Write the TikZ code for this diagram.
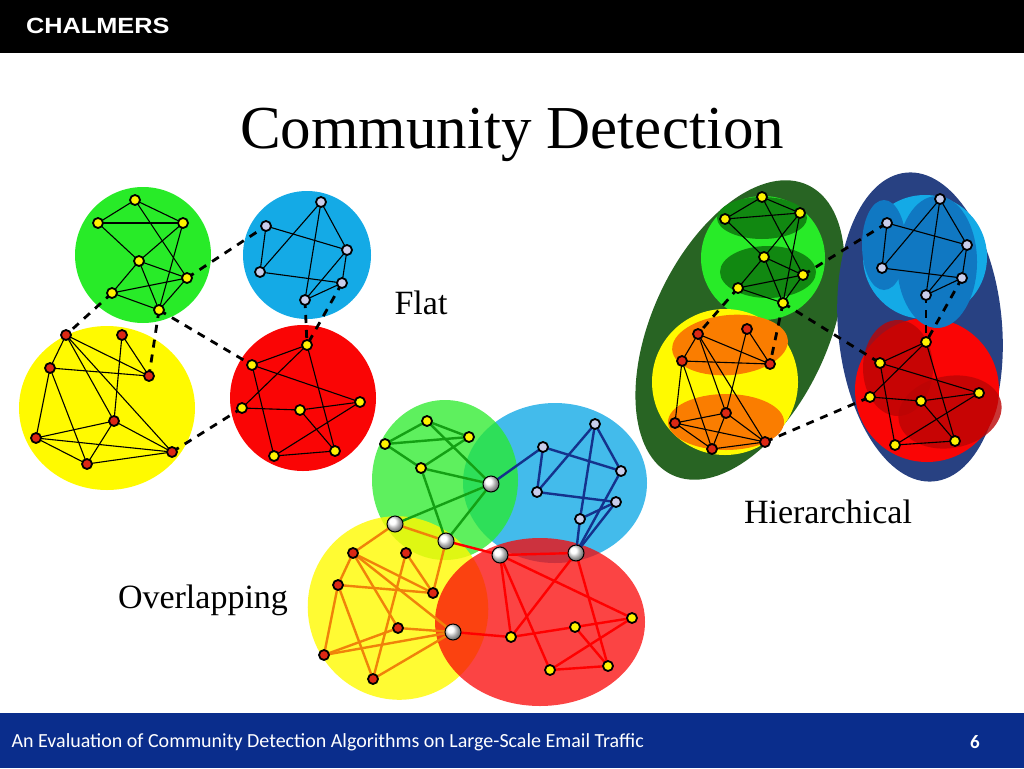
\documentclass[tikz,border=0pt]{standalone}
\usepackage{fontspec}
\setmainfont{Liberation Serif}
\newfontfamily\footfont{Carlito}
\newfontfamily\logofont{Liberation Sans}
\definecolor{cgreen}{RGB}{40,235,40}
\definecolor{cblue}{RGB}{20,170,230}
\definecolor{cyellow}{RGB}{255,250,0}
\definecolor{cred}{RGB}{250,5,5}
\definecolor{cdkgreen}{RGB}{40,100,35}
\definecolor{cdkblue}{RGB}{40,65,130}
\definecolor{corange}{RGB}{250,125,0}
\definecolor{cnavy}{RGB}{10,45,140}
\definecolor{cpale}{RGB}{200,205,235}
\definecolor{cdot}{RGB}{220,40,20}
\definecolor{ogreen}{RGB}{20,160,20}
\definecolor{oblue}{RGB}{20,50,140}
\definecolor{oorange}{RGB}{240,130,10}
\tikzset{
  vy/.style={circle,draw=black,line width=1.8pt,fill=yellow,inner sep=0pt,minimum size=10pt},
  vr/.style={vy,fill=cdot},
  vb/.style={vy,fill=cpale},
  vw/.style={circle,draw=black,line width=1pt,inner sep=0pt,minimum size=16pt,ball color=white},
  link/.style={black,line width=1.1pt},
  bridge/.style={black,line width=2.8pt,dash pattern=on 8pt off 7pt},
  olink/.style={line width=2.4pt},
  label/.style={font=\fontsize{34}{34}\selectfont}
}
% shared edges of the flat and hierarchical networks
\newcommand\netedges[1]{%
  \foreach \a/\b in {g1/g2,g1/g3,g2/g3,g2/g4,g1/g5,g3/g4,g3/g7,g4/g6,g4/g5,g4/g7,g6/g5,g6/g7,g5/g7,
    b1/b4,b1/b3,b1/b6,b2/b4,b2/b3,b4/b5,b3/b6,b3/b5,b5/b6,
    y1/y3,y1/y4,y1/y5,y1/y8,y2/y4,y2/y5,y3/y4,y3/y6,y3/y7,y5/y6,y5/y7,y5/y8,y6/y7,y6/y8,y7/y8,
    r1/r2,r1/r3,r1/r7,r2/r5,r2/r6,r3/r4,r4/r5,r4/r7,r5/r6,r6/r7}
    \draw[link] (#1\a) -- (#1\b);
  \foreach \a/\b in {g5/b2,g6/y1,g7/y4,g7/r2,b6/r1,b5/r1,y8/r3}
    \draw[bridge] (#1\a) -- (#1\b);
}
\begin{document}
\begin{tikzpicture}[x=1pt,y=-1pt]
\useasboundingbox (0,0) rectangle (1024,768);
\fill[black] (0,0) rectangle (1024,53);
\node[white,font=\logofont\bfseries\fontsize{22}{22}\selectfont,anchor=west,xscale=1.15] (logo) at (22,26) {CHALMERS};
\fill[cnavy] (0,713) rectangle (1024,768);
\node[white,font=\footfont\fontsize{20}{20}\selectfont,anchor=west] (foot) at (8,742) {An Evaluation of Community Detection Algorithms on Large-Scale Email Traffic};
\node[white,font=\footfont\bfseries\fontsize{19}{19}\selectfont] (page) at (975,742) {6};
\node[font=\fontsize{61}{61}\selectfont] (title) at (512,135) {Community Detection};
\node[label] (flat) at (421,303) {Flat};
\node[label] (hier) at (828,512) {Hierarchical};
\node[label] (over) at (203,600) {Overlapping};

% flat
\fill[cgreen] (143,255) circle (68);
\fill[cblue] (307,255) circle (64);
\fill[cyellow] (107,408) ellipse (88 and 82);
\fill[cred] (303,398) circle (73);
\foreach \n/\x/\y in {g1/135/200,g2/98/223,g3/183/223,g4/139/261,g5/187/278,g6/112/293,g7/159/310,
  y1/66/335,y2/122/335,y3/50/368,y4/149/376,y5/114/421,y6/36/438,y7/87/464,y8/172/452,
  b1/321/202,b2/266/226,b3/347/250,b4/260/272,b5/342/283,b6/305/300,
  r1/307/345,r2/252/365,r3/242/408,r4/300/410,r5/360/402,r6/274/456,r7/335/451}
  \coordinate (f\n) at (\x,\y);
\netedges{f}
\foreach \n in {g1,g2,g3,g4,g5,g6,g7,r1,r2,r3,r4,r5,r6,r7} \node[vy] at (f\n) {};
\foreach \n in {y1,y2,y3,y4,y5,y6,y7,y8} \node[vr] at (f\n) {};
\foreach \n in {b1,b2,b3,b4,b5,b6} \node[vb] at (f\n) {};

% hierarchical
\fill[cdkgreen,rotate around={-25:(740,330)}] (740,330) ellipse (88 and 160);
\fill[cdkblue,rotate around={5:(920,327)}] (920,327) ellipse (82 and 155);
\fill[cgreen] (763,258) circle (62);
\fill[cyellow] (725,382) circle (73);
\fill[cblue] (925,257) circle (62);
\fill[cred] (927,390) circle (72);
\fill[ogreen!85!black] (762,218) ellipse (45 and 21);
\fill[ogreen!85!black] (768,272) ellipse (48 and 26);
\fill[corange,rotate around={5:(730,345)}] (730,345) ellipse (58 and 30);
\fill[corange] (726,422) ellipse (58 and 28);
\fill[cblue!60!cnavy] (884,245) ellipse (22 and 45);
\fill[cblue!60!cnavy] (937,262) ellipse (40 and 66);
\fill[cred!75!black,opacity=0.8] (898,368) ellipse (35 and 48);
\fill[cred!75!black,opacity=0.8,rotate around={10:(950,412)}] (950,412) ellipse (52 and 36);
\foreach \n/\x/\y in {g1/762/197,g2/725/219,g3/800/213,g4/764/257,g5/803/275,g6/738/288,g7/783/303,
  y1/698/334,y2/747/329,y3/682/361,y4/770/364,y5/726/413,y6/675/423,y7/712/449,y8/765/442,
  b1/940/199,b2/887/223,b3/967/245,b4/882/268,b5/962/278,b6/926/295,
  r1/926/342,r2/880/363,r3/870/397,r4/921/401,r5/979/393,r6/895/445,r7/955/441}
  \coordinate (h\n) at (\x,\y);
\netedges{h}
\foreach \n in {g1,g2,g3,g4,g5,g6,g7,r1,r2,r3,r4,r5,r6,r7} \node[vy] at (h\n) {};
\foreach \n in {y1,y2,y3,y4,y5,y6,y7,y8} \node[vr] at (h\n) {};
\foreach \n in {b1,b2,b3,b4,b5,b6} \node[vb] at (h\n) {};

% overlapping
\fill[cblue,opacity=0.8] (555,483) ellipse (92 and 80);
\fill[cgreen,opacity=0.75] (445,480) ellipse (73 and 80);
\fill[cyellow,opacity=0.8,rotate around={20:(398,608)}] (398,608) ellipse (90 and 92);
\fill[cred,opacity=0.75] (540,622) ellipse (105 and 84);
\foreach \n/\x/\y in {og1/427/421,og2/385/444,og3/469/437,og4/421/468,
  ob1/543/447,ob2/595/424,ob3/621/471,ob4/537/492,ob5/616/502,ob6/580/519,
  oy1/353/553,oy2/406/553,oy3/338/585,oy4/433/593,oy5/398/628,oy6/324/655,oy7/373/679,
  or1/511/637,or2/575/627,or3/632/618,or4/550/670,or5/608/666,
  w1/491/484,w2/395/524,w3/446/541,w4/500/555,w5/576/553,w6/453/632}
  \coordinate (\n) at (\x,\y);
\foreach \a/\b in {og1/og2,og1/og3,og2/og3,og2/og4,og4/w1,og1/w1,og3/og4,og4/w3,w1/w2,w1/w3}
  \draw[olink,ogreen] (\a) -- (\b);
\foreach \a/\b in {w1/ob1,ob1/ob4,ob1/ob3,ob2/ob4,ob2/ob6,ob2/ob3,ob4/ob5,ob3/w5,ob5/ob6,ob5/w5,ob6/w5}
  \draw[olink,oblue] (\a) -- (\b);
\foreach \a/\b in {w2/w3,w2/oy1,w3/oy4,oy1/oy3,oy1/oy4,oy1/oy5,oy1/w6,oy2/oy4,oy2/oy7,oy3/oy4,oy3/oy6,oy3/oy7,oy5/oy6,oy5/w6,oy6/w6,oy7/w6}
  \draw[olink,oorange] (\a) -- (\b);
\foreach \a/\b in {w3/w4,w4/w5,w4/or1,w4/or4,w4/or3,w5/or1,w5/or5,w6/or1,or1/or2,or2/or3,or2/or5,or3/or4,or4/or5}
  \draw[olink,red] (\a) -- (\b);
\foreach \n in {og1,og2,og3,og4,or1,or2,or3,or4,or5} \node[vy] at (\n) {};
\foreach \n in {oy1,oy2,oy3,oy4,oy5,oy6,oy7} \node[vr] at (\n) {};
\foreach \n in {ob1,ob2,ob3,ob4,ob5,ob6} \node[vb] at (\n) {};
\foreach \n in {w1,w2,w3,w4,w5,w6} \node[vw] at (\n) {};
\end{tikzpicture}
\end{document}
